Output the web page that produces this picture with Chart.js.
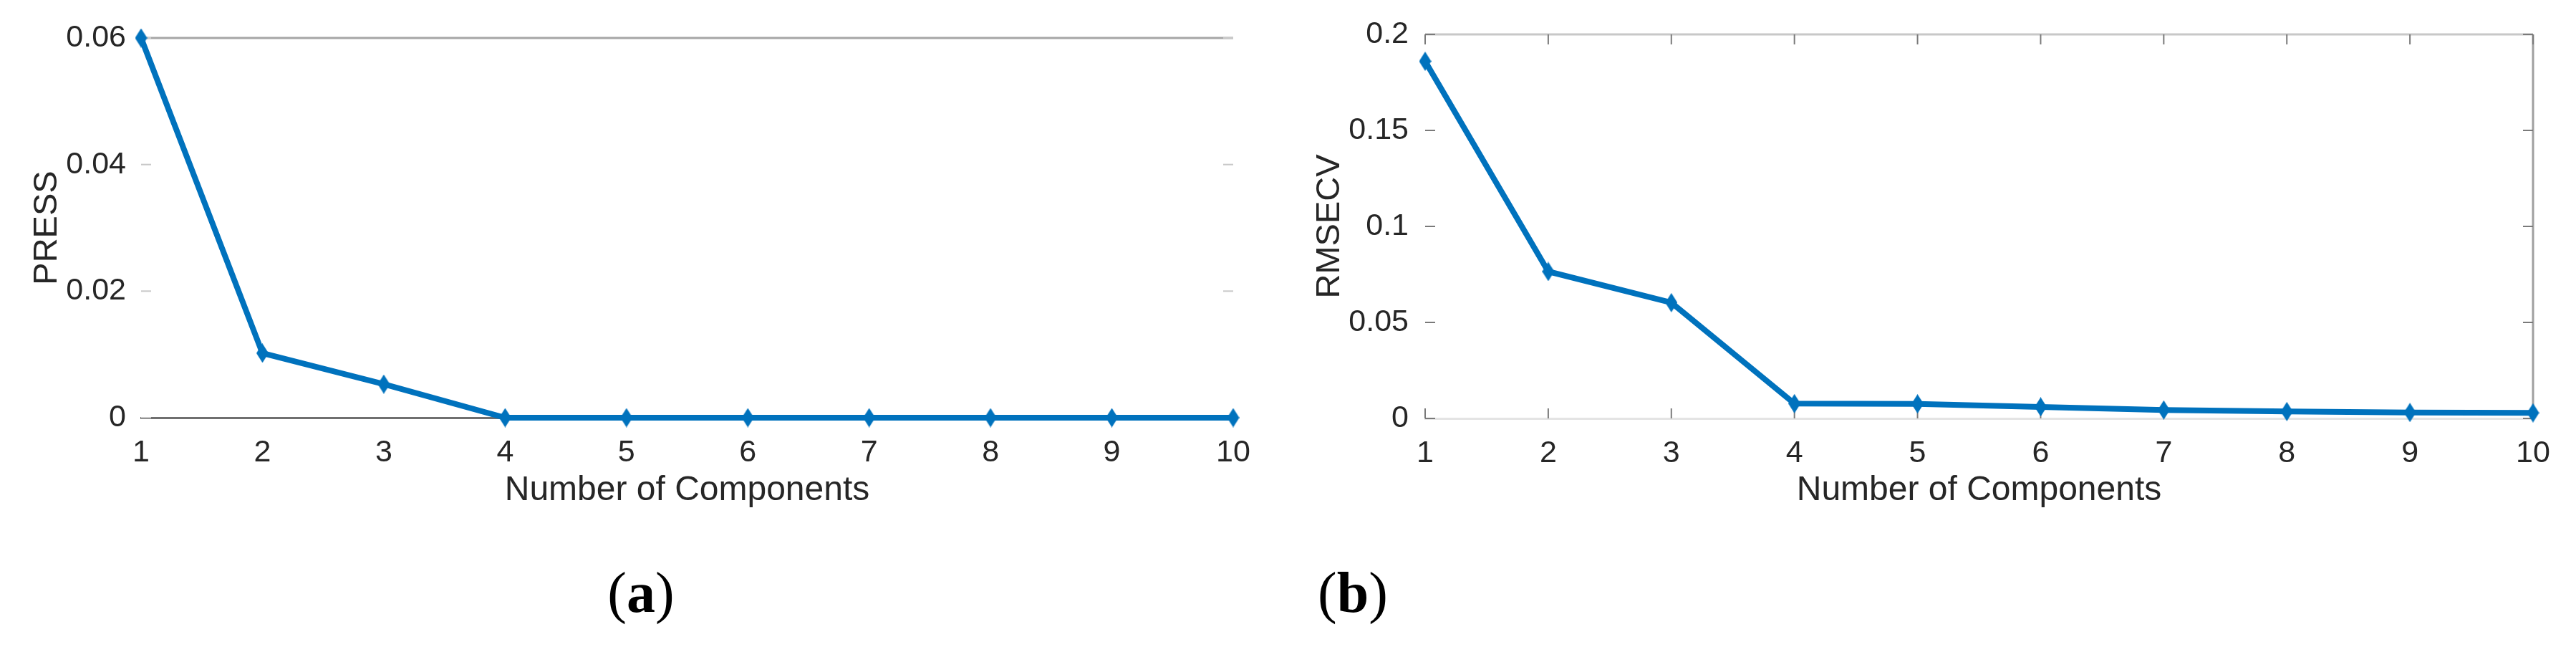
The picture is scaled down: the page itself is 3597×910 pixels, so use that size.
<!DOCTYPE html>
<html>
<head>
<meta charset="utf-8">
<script src="https://cdn.jsdelivr.net/npm/chart.js@4/dist/chart.umd.min.js"></script>
<style>
  body { margin: 0; background: #fff; }
  #page { position: relative; width: 3597px; height: 910px; background: #fff; }
  canvas { position: absolute; top: 0; }
  .tag { position: absolute; font-family: "Liberation Serif", serif; font-size: 80px; line-height: 1; color: #000; transform: translate(-50%, -50%); }
  .tag b { font-weight: bold; }
</style>
</head>
<body>
<div id="page">
  <canvas id="chartA" width="1800" height="760" style="left:0px"></canvas>
  <canvas id="chartB" width="1797" height="760" style="left:1800px"></canvas>
  <div class="tag" style="left:895px; top:827px">(<b>a</b>)</div>
  <div class="tag" style="left:1889px; top:827px">(<b>b</b>)</div>
</div>
<script>
// data
const components = [1, 2, 3, 4, 5, 6, 7, 8, 9, 10];
const pressValues = [0.0600, 0.0102, 0.0053, 0.0000, 0.0000, 0.0000, 0.0000, 0.0000, 0.0000, 0.0000];
const rmsecvValues = [0.186, 0.0765, 0.0603, 0.0077, 0.0076, 0.0060, 0.0044, 0.0036, 0.0031, 0.0029];
const pressTicks = [0, 0.02, 0.04, 0.06];
const rmsecvTicks = [0, 0.05, 0.1, 0.15, 0.2];

const blue = '#0072BD';
const textColor = '#262626';

// tall diamond marker like matlab 'd'
const diamond = document.createElement('canvas');
diamond.width = 17;
diamond.height = 27;
(() => {
  const c = diamond.getContext('2d');
  c.fillStyle = blue;
  c.beginPath();
  c.moveTo(8.5, 0);
  c.lineTo(17, 13.5);
  c.lineTo(8.5, 27);
  c.lineTo(0, 13.5);
  c.closePath();
  c.fill();
})();

// matlab style box lines + inside tick marks
const boxPlugin = {
  id: 'box',
  beforeDatasetsDraw(chart, args, opts) {
    const { ctx, chartArea: a, scales: { x, y } } = chart;
    const line = (x1, y1, x2, y2) => { ctx.beginPath(); ctx.moveTo(x1, y1); ctx.lineTo(x2, y2); ctx.stroke(); };
    ctx.save();
    ctx.lineWidth = 3;
    if (opts.top) { ctx.strokeStyle = opts.top; line(a.left, a.top, a.right, a.top); }
    if (opts.right) { ctx.strokeStyle = opts.right; line(a.right, a.top, a.right, a.bottom); }
    ctx.strokeStyle = opts.tickColor;
    ctx.lineWidth = 2;
    const len = 14;
    if (opts.xTicks) {
      x.ticks.forEach(t => {
        const px = x.getPixelForValue(t.value);
        line(px, a.bottom, px, a.bottom - len);
        line(px, a.top, px, a.top + len);
      });
    }
    if (opts.yTicks) {
      y.ticks.forEach(t => {
        const py = y.getPixelForValue(t.value);
        line(a.left, py, a.left + len, py);
        line(a.right, py, a.right - len, py);
      });
    }
    ctx.restore();
  }
};

function makeChart(id, values, tickVals, yLabel, geo) {
  return new Chart(document.getElementById(id), {
    type: 'line',
    data: {
      datasets: [{
        data: components.map((c, i) => ({ x: c, y: values[i] })),
        borderColor: blue,
        backgroundColor: blue,
        borderWidth: 8,
        pointStyle: diamond,
        pointRadius: 13,
        tension: 0,
        clip: false
      }]
    },
    options: {
      responsive: false,
      animation: false,
      devicePixelRatio: 1,
      layout: { padding: { left: 0, right: geo.right, top: geo.top, bottom: 0 } },
      plugins: {
        legend: { display: false },
        tooltip: { enabled: false },
        box: geo.box
      },
      scales: {
        x: {
          type: 'linear',
          min: components[0],
          max: components[components.length - 1],
          ticks: { stepSize: 1, padding: 15, color: textColor, font: { family: 'Liberation Sans', size: 43 } },
          grid: { display: false },
          border: { color: geo.bottomColor, width: 3 },
          title: {
            display: true,
            text: 'Number of Components',
            color: textColor,
            font: { family: 'Liberation Sans', size: 48 },
            padding: { top: 0, bottom: 46 }
          },
          afterFit: s => { s.height = geo.xHeight; }
        },
        y: {
          min: tickVals[0],
          max: tickVals[tickVals.length - 1],
          afterBuildTicks: s => { s.ticks = tickVals.map(v => ({ value: v })); },
          ticks: {
            padding: geo.yPad,
            color: textColor,
            font: { family: 'Liberation Sans', size: 43 },
            callback: v => String(Number(v.toFixed(4)))
          },
          grid: { display: false },
          border: { display: false },
          title: {
            display: true,
            text: yLabel,
            color: textColor,
            font: { family: 'Liberation Sans', size: 47 },
            padding: { top: geo.titlePad, bottom: 0 }
          },
          afterFit: s => { s.width = geo.yWidth; }
        }
      }
    },
    plugins: [boxPlugin]
  });
}

makeChart('chartA', pressValues, pressTicks, 'PRESS', {
  right: 78, top: 53, xHeight: 177, yWidth: 197, yPad: 13, titlePad: 38,
  bottomColor: '#6f6f6f',
  box: { top: '#a6a6a6', right: null, tickColor: '#c8c8c8', xTicks: false, yTicks: true }
});

makeChart('chartB', rmsecvValues, rmsecvTicks, 'RMSECV', {
  right: 60, top: 48, xHeight: 176, yWidth: 190, yPad: 15, titlePad: 29,
  bottomColor: '#e4e4e4',
  box: { top: '#c8c8c8', right: '#a0a0a0', tickColor: '#7a7a7a', xTicks: true, yTicks: true }
});
</script>
</body>
</html>
